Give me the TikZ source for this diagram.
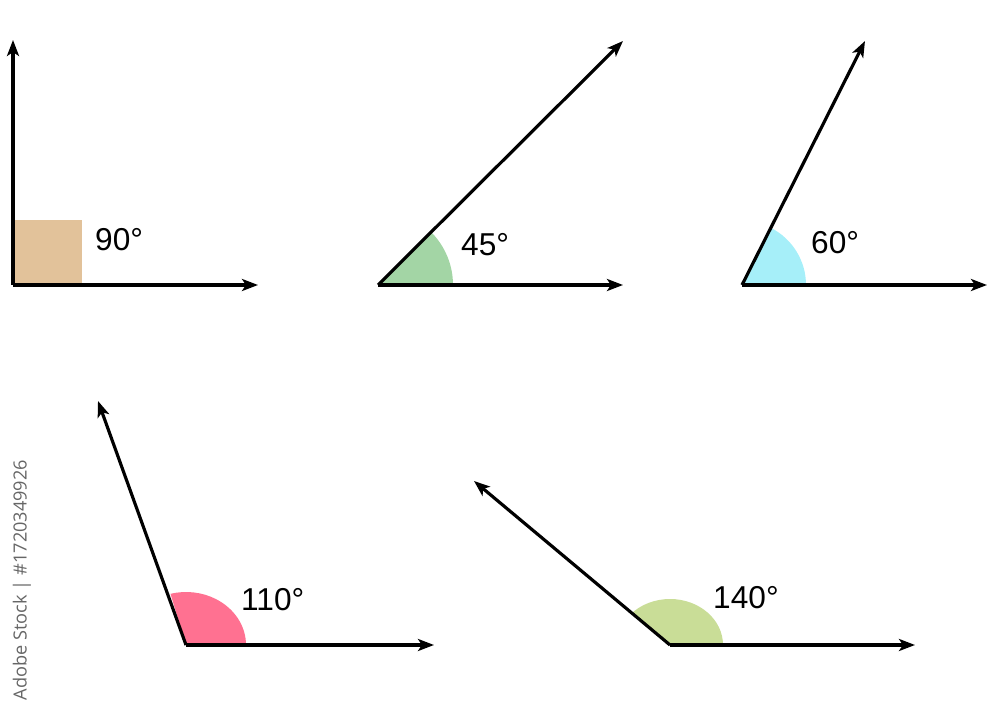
\documentclass[tikz,border=0pt]{standalone}
\usepackage{fontspec}
\setmainfont{Liberation Sans}
\newfontfamily\wmfont{Open Sans}
\usetikzlibrary{arrows.meta}
\definecolor{ctan}{HTML}{E2C29A}
\definecolor{cgreen}{HTML}{A3D5A5}
\definecolor{ccyan}{HTML}{A6EFF9}
\definecolor{cpink}{HTML}{FF7191}
\definecolor{colive}{HTML}{C9DD97}
\tikzset{
  ray/.style={line width=0.95mm, -{Stealth[length=4.8mm,width=3.6mm,inset=1.2mm]}, line cap=butt},
  anglelabel/.style={anchor=west, inner sep=0pt, font=\fontsize{27}{30}\selectfont},
}
\begin{document}
\begin{tikzpicture}[x=0.3mm,y=-0.3mm]
\useasboundingbox (0,0) rectangle (1000,707);
% ---------- 90 ----------
\coordinate (v1) at (13,285);
\coordinate (u1) at (13,40);
\coordinate (h1) at (258,285);
\fill[ctan] (15,220) rectangle (82,285);
\draw[ray] (v1) -- (u1);
\draw[ray] (v1) -- (h1);
\node[anglelabel] (l1) at (95,240) {90°};
% ---------- 45 ----------
\coordinate (v2) at (378,285);
\coordinate (u2) at (623,41);
\coordinate (h2) at (623,285);
\fill[cgreen] (v2) -- ++(75,0) arc[start angle=0,end angle=-44.9,radius=75] -- cycle;
\draw[ray] (v2) -- (u2);
\draw[ray] (v2) -- (h2);
\node[anglelabel] (l2) at (461,245) {45°};
% ---------- 60 ----------
\coordinate (v3) at (742,285);
\coordinate (u3) at (865,41);
\coordinate (h3) at (987,285);
\fill[ccyan] (v3) -- ++(64,0) arc[start angle=0,end angle=-63.3,radius=64] -- cycle;
\draw[ray] (v3) -- (u3);
\draw[ray] (v3) -- (h3);
\node[anglelabel] (l3) at (811,243) {60°};
% ---------- 110 ----------
\coordinate (v4) at (186,645);
\coordinate (u4) at (98,401);
\coordinate (h4) at (434,645);
\fill[cpink] (v4) -- ++(60,0) arc[start angle=0,end angle=-105,x radius=60,y radius=53] -- cycle;
\draw[ray] (v4) -- (u4);
\draw[ray] (v4) -- (h4);
\node[anglelabel] (l4) at (241,600) {110°};
% ---------- 140 ----------
\coordinate (v5) at (670,645);
\coordinate (u5) at (474,481);
\coordinate (h5) at (915,645);
\fill[colive] (v5) -- ++(53,0) arc[start angle=0,end angle=-137,x radius=53,y radius=46] -- cycle;
\draw[ray] (v5) -- (u5);
\draw[ray] (v5) -- (h5);
\node[anglelabel] (l5) at (713,598) {140°};
% ---------- watermark text ----------
\node[rotate=90, text=black!60, font=\wmfont\fontsize{15.5}{17}\selectfont, inner sep=0pt] (wm) at (22,580) {Adobe Stock | \#1720349926};
\end{tikzpicture}
\end{document}
